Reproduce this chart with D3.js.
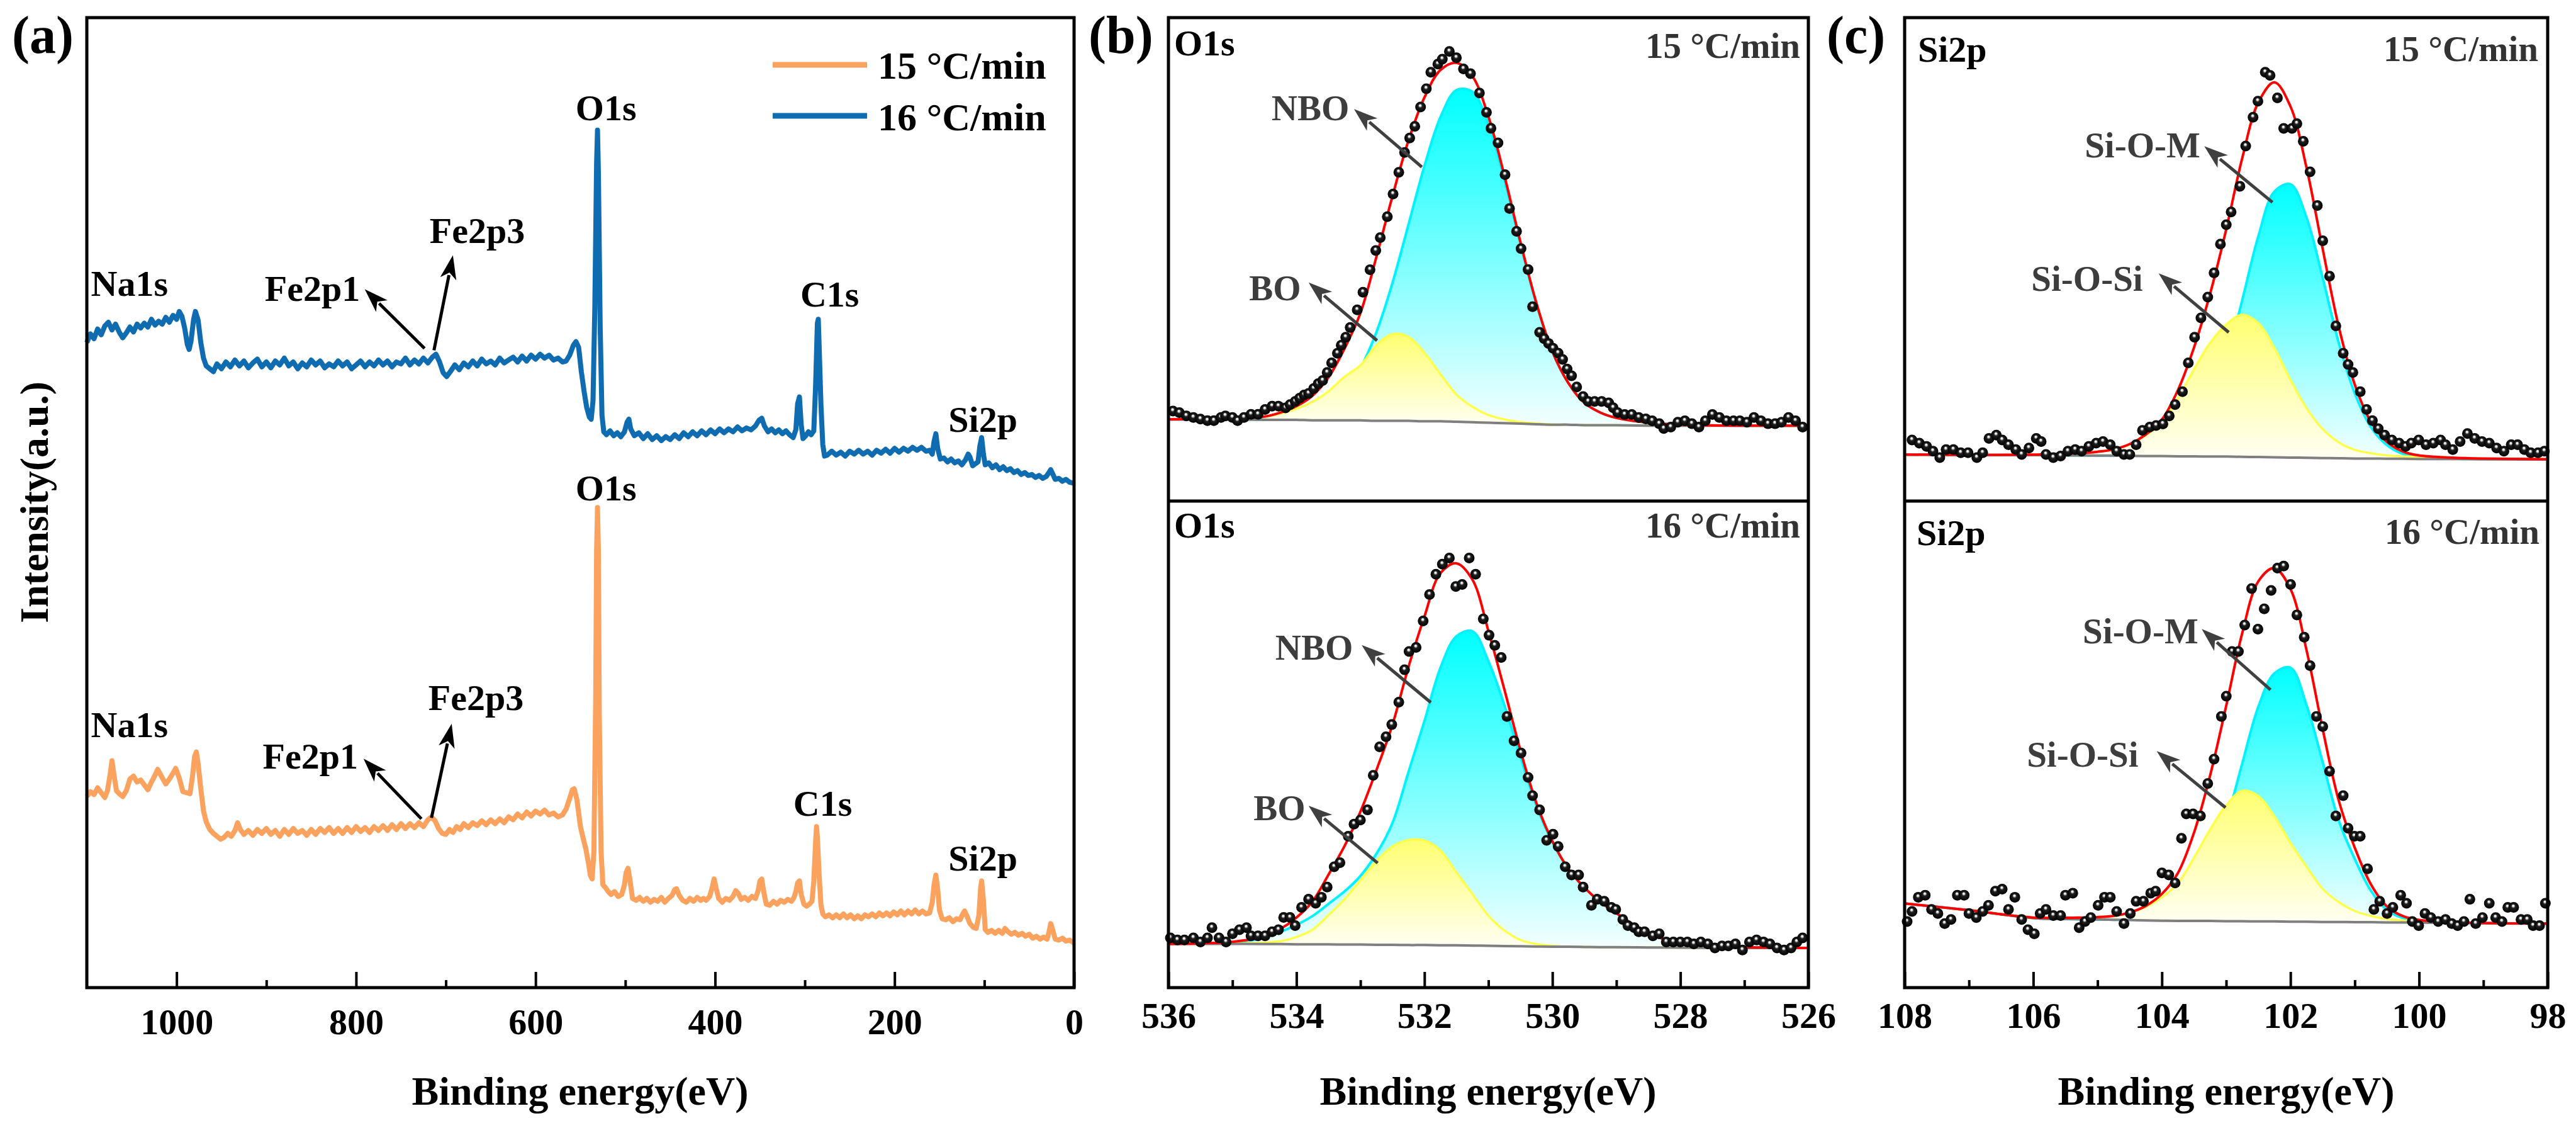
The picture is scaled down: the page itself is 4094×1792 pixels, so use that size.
<!DOCTYPE html>
<html><head><meta charset="utf-8">
<script src="https://cdn.jsdelivr.net/npm/d3@7/dist/d3.min.js"></script>
<style>body{margin:0;background:#fff}</style>
</head><body>
<script>
// ---------------- DATA ----------------
const rateLabels = ["15 °C/min", "16 °C/min"];
const surveyTicks = [1000, 800, 600, 400, 200, 0];
const surveyMinor = [900, 700, 500, 300, 100];
const o1sTicks = [536, 534, 532, 530, 528, 526];
const o1sMinor = [535, 533, 531, 529, 527];
const si2pTicks = [108, 106, 104, 102, 100, 98];
const si2pMinor = [107, 105, 103, 101, 99];

// (a) survey spectra [binding energy, intensity a.u.]
const survey16 = [[1100,66.5],[1096,67.4],[1092,66.9],[1088,67.9],[1084,67.3],[1080,68.2],[1076,68.6],[1072,67.8],[1068,68.4],[1064,67.6],[1060,67.0],[1056,67.5],[1052,68.1],[1048,67.6],[1044,68.4],[1040,68.0],[1036,68.5],[1032,68.1],[1028,68.9],[1024,68.3],[1020,68.7],[1016,68.4],[1012,69.1],[1008,68.6],[1004,69.3],[1000,68.9],[997,69.7],[994,69.2],[991,68.0],[988,66.3],[986,65.8],[984,66.6],[981,68.9],[979,69.7],[976,68.8],[973,66.5],[970,64.9],[967,64.1],[963,63.8],[959,63.5],
[955,64.3],[950,63.8],[945,64.5],[940,64.0],[935,64.7],[930,64.1],[925,64.6],[920,63.9],[915,64.4],[910,64.8],[905,64.0],[900,64.5],[895,63.9],[890,64.6],[885,64.2],[880,64.9],[875,64.1],[870,64.5],[865,63.8],[860,64.4],[855,64.0],[850,64.7],[845,64.2],[840,64.6],[835,63.9],[830,64.3],[825,64.0],[820,64.6],[815,64.1],[810,64.5],[805,63.8],[800,64.2],[795,64.6],[790,64.0],[785,64.5],[780,64.1],[775,64.7],[770,64.2],[765,64.6],[760,64.0],[755,64.5],[750,64.3],[745,64.9],[740,64.2],[735,64.7],[730,64.3],[725,64.9],[720,64.4],[715,65.0],[711,65.3],[707,64.5],[703,63.4],[699,63.0],[695,63.5],[690,64.2],[685,63.7],[680,64.4],[675,64.0],[670,64.6],[665,64.1],[660,64.8],[655,64.3],[650,64.6],[645,64.2],[640,64.9],[635,64.4],[630,64.7],[625,65.0],[620,64.5],[615,65.1],[610,64.6],[605,65.2],[600,64.8],[595,65.3],[590,64.9],[585,65.2],[580,64.7],[575,64.9],[570,64.5],[566,64.6],
[562,65.2],[558,66.2],[555,66.6],[552,66.0],[549,63.5],[546,61.5],[543,59.8],[540,58.8],[538,58.6],[536,60.5],[534,70.0],[532,85.0],[531,88.4],[530,84.0],[528,68.0],[526,59.0],[524,57.3],[521,57.0],
[517,57.4],[513,56.9],[509,57.2],[505,56.8],[501,57.3],[498,58.3],[496,58.6],[494,57.6],[490,56.9],[485,57.2],[480,56.6],[475,57.1],[470,56.5],[465,56.9],[460,56.4],[455,56.8],[450,56.5],[445,57.0],[440,56.6],[435,57.2],[430,56.8],[425,57.3],[420,56.9],[415,57.4],[410,57.0],[405,57.5],[400,57.1],[395,57.6],[390,57.2],[385,57.6],[380,57.3],[375,57.8],[370,57.4],[365,57.7],[360,57.5],[355,57.9],[351,58.5],[348,58.7],[345,57.9],[341,57.3],[337,57.6],[333,57.2],[329,57.5],[325,57.1],[321,57.4],[317,57.0],[313,56.7],[310,57.5],[308,60.2],[306,60.9],[304,58.0],[302,56.6],[299,56.9],[296,57.3],[293,57.0],[290,57.4],[288,62.0],[286,68.5],[285,68.9],[284,66.0],[282,60.0],[280,56.0],[278,54.8],[275,54.9],
[270,55.3],[265,54.9],[260,55.2],[255,54.8],[250,55.3],[245,55.0],[240,55.4],[235,55.0],[230,55.3],[225,54.9],[220,55.4],[215,55.1],[210,55.5],[205,55.1],[200,55.6],[195,55.2],[190,55.6],[185,55.3],[180,55.7],[175,55.4],[170,55.7],[165,55.3],[161,55.4],[158,55.0],[156,56.3],[154,57.1],[152,55.6],[149,54.5],[145,54.6],[141,54.2],[137,54.5],[133,54.1],[129,54.3],[125,53.9],[121,54.4],[118,55.0],[116,54.7],[113,53.8],[110,54.0],[107,54.2],[105,55.8],[103,56.7],[101,55.0],[99,53.9],[95,54.1],[91,53.6],[87,53.9],[83,53.4],[79,53.7],[75,53.3],[71,53.5],[67,53.1],[63,53.3],[59,52.9],[55,53.1],[51,52.8],[47,52.9],[43,52.6],[39,52.8],[35,52.5],[31,52.7],[28,53.1],[26,53.4],[24,53.0],[21,52.4],[17,52.5],[13,52.2],[9,52.4],[5,52.1],[0,52.0]];

const survey15 = [[1100,19.7],[1096,20.2],[1092,19.9],[1088,20.6],[1084,20.1],[1080,19.6],[1077,20.3],[1074,22.0],[1072,23.4],[1070,22.1],[1067,20.3],[1064,20.0],[1060,19.7],[1056,20.3],[1052,21.5],[1048,21.8],[1044,21.2],[1040,21.4],[1036,20.9],[1032,20.4],[1028,21.2],[1024,21.9],[1021,22.5],[1017,21.8],[1012,21.0],[1008,21.5],[1004,22.1],[1001,22.6],[997,21.6],[993,20.2],[989,20.1],[985,20.0],[982,22.0],[980,23.8],[978,24.3],[976,23.1],[973,20.5],[970,18.2],[967,17.1],[963,16.3],[959,15.9],[955,15.6],[951,15.3],[947,15.5],[943,15.9],[939,15.6],[935,16.2],[932,17.0],[929,16.3],[925,15.8],
[920,16.2],[915,15.7],[910,16.3],[905,15.9],[900,16.4],[895,15.8],[890,16.2],[885,15.6],[880,16.3],[875,15.8],[870,16.4],[865,15.9],[860,16.2],[855,15.7],[850,16.3],[845,15.8],[840,16.4],[835,16.0],[830,16.5],[825,15.9],[820,16.4],[815,15.9],[810,16.5],[805,16.0],[800,16.6],[795,16.1],[790,16.5],[785,16.0],[780,16.6],[775,16.2],[770,16.7],[765,16.2],[760,16.8],[755,16.3],[750,16.9],[745,16.4],[740,16.9],[735,16.5],[730,17.0],[725,16.6],[720,17.3],[716,17.6],[712,17.2],[708,16.4],[704,15.9],[700,15.8],[696,16.3],[692,16.0],[688,16.6],[684,16.3],[680,16.9],[675,16.5],[670,17.0],[665,16.7],[660,17.2],[655,16.8],[650,17.3],[645,16.9],[640,17.4],[635,17.0],[630,17.6],[625,17.3],[620,17.9],[615,17.5],[610,18.1],[605,17.7],[600,18.2],[595,17.9],[590,18.3],[585,17.8],[580,18.0],[575,17.6],[570,17.8],
[566,18.4],[562,19.5],[559,20.4],[557,20.5],[554,19.4],[550,16.6],[547,15.4],[544,14.3],[541,12.8],[539,11.6],[537,11.2],[535,14.0],[533,30.0],[532,45.0],[531,49.5],[530,45.0],[529,28.0],[527,14.0],[525,10.6],[522,10.3],[519,9.9],[516,9.6],[512,9.9],[508,9.4],[504,9.6],[501,10.6],[499,11.9],[497,12.3],[495,11.2],[492,9.2],[488,9.0],[484,9.3],[480,8.9],[476,9.2],[472,8.8],[468,9.1],[464,8.9],[460,9.3],[456,8.8],[452,9.2],[448,9.5],[445,10.1],[443,10.2],[440,9.5],[436,9.0],[432,8.8],[428,9.2],[424,8.9],[420,9.3],[416,9.0],[413,9.2],[410,9.0],[406,9.4],[403,10.4],[401,11.2],[399,10.3],[396,9.2],[392,8.8],[388,9.2],[384,9.0],[380,9.4],[377,10.0],[374,9.7],[371,9.1],[367,9.3],[363,9.0],[359,9.4],[355,9.2],[352,10.0],[350,11.0],[348,11.2],[346,10.0],[343,8.6],[339,8.5],[335,8.9],[331,8.6],[327,9.0],[323,8.8],[319,9.1],[315,8.9],[312,9.3],[310,9.9],[308,10.8],[306,11.0],[304,9.6],[301,8.6],[298,8.4],[295,8.6],[292,8.9],[290,11.0],[288,15.0],[287,16.6],[286,15.5],[284,11.5],[282,8.5],[280,7.6],[277,7.3],
[273,7.5],[269,7.2],[265,7.5],[261,7.2],[257,7.6],[253,7.2],[249,7.5],[245,7.1],[241,7.4],[237,7.1],[233,7.5],[229,7.3],[225,7.6],[221,7.3],[217,7.7],[213,7.4],[209,7.7],[205,7.4],[201,7.8],[197,7.5],[193,7.9],[189,7.5],[185,7.9],[181,7.6],[177,8.0],[173,7.6],[169,7.9],[165,7.6],[161,7.7],[158,8.8],[156,10.6],[154,11.6],[152,10.2],[150,8.0],[147,7.1],[143,7.0],[139,7.2],[135,6.8],[131,7.1],[127,7.0],[124,7.6],[122,7.9],[119,7.3],[116,6.6],[112,6.2],[109,6.1],[106,7.5],[104,10.4],[103,11.0],[101,9.0],[99,6.0],[96,5.7],[92,5.9],[88,5.6],[84,5.9],[80,5.6],[77,6.1],[74,5.8],[70,5.5],[66,5.7],[62,5.4],[58,5.6],[54,5.3],[50,5.5],[46,5.1],[42,5.3],[38,5.0],[34,5.2],[30,5.0],[28,5.7],[26,6.6],[24,6.0],[21,5.0],[17,4.9],[13,5.1],[9,4.8],[5,4.9],[0,4.6]];

// (a) peak labels [text, energy, intensity] and arrows [tailE, tailI, headE, headI]
const survey16Labels = [["Na1s",1095.4,71.3],["Fe2p1",901.8,70.8],["Fe2p3",718,76.8],["O1s",555.4,89.4],["C1s",305,70.2],["Si2p",140,57.3]];
const survey15Labels = [["Na1s",1095.4,25.8],["Fe2p1",904,22.6],["Fe2p3",719.5,28.6],["O1s",555.4,50.2],["C1s",312.8,17.7],["Si2p",140,12.1]];
const survey16Arrows = [[723.7,65.9,790.3,72.0],[713.2,65.7,692.1,75.5]];
const survey15Arrows = [[727.2,17.4,791.7,23.6],[716,17.5,693.5,27.2]];

// (b) O1s fits: energy grid, Shirley background, NBO and BO components (above background)
const o1sE = [536,535.5,535,534.5,534.25,534,533.75,533.5,533.25,533,532.75,532.5,532.25,532,531.75,531.5,531.25,531,530.75,530.5,530.25,530,529.75,529.5,529.25,529,528.5,528,527,526];
const o1s15Base = [16.9,16.9,16.9,16.8,16.8,16.8,16.7,16.7,16.7,16.7,16.6,16.6,16.6,16.5,16.5,16.4,16.3,16.2,16.1,16.0,15.9,15.8,15.8,15.7,15.7,15.7,15.6,15.6,15.6,15.6];
const o1s15NBO = [0,0,0.01,0.07,0.2,0.53,1.29,2.87,5.81,10.79,18.33,28.49,40.53,52.77,62.89,68.6,68.37,61.73,50.42,37.26,24.91,15.07,8.6,4.6,2.6,1.5,0.6,0.2,0,0];
const o1s15BO = [0,0.05,0.15,0.6,1.3,2.3,3.8,6.0,9.0,11.4,15.58,17.94,17.39,14.2,9.76,5.65,3.2,1.6,0.8,0.35,0.15,0.05,0,0,0,0,0,0,0,0];
const o1s16Base = [9.0,9.0,9.0,8.95,8.95,8.9,8.9,8.9,8.85,8.85,8.8,8.8,8.75,8.75,8.7,8.7,8.65,8.6,8.55,8.5,8.45,8.4,8.4,8.35,8.3,8.3,8.25,8.2,8.15,8.15];
const o1s16NBO = [0,0.1,0.3,1.3,2.5,4.0,5.8,8.3,10.9,14.1,18.7,25.0,35.5,46.0,57.0,63.5,64.6,58.5,49.5,39.0,29.0,21.5,16.0,12.2,9.3,7.0,2.9,1.0,0.2,0];
const o1s16BO = [0,0,0.1,0.3,0.6,1.5,3.0,6.0,9.3,13.2,17.2,20.2,21.6,21.5,19.5,15.0,10.6,6.2,3.2,1.3,0.5,0.2,0,0,0,0,0,0,0,0];
const o1s15Dots = [[535.93,18.62],[535.83,18.29],[535.72,17.62],[535.61,17.29],[535.50,16.96],[535.39,16.63],[535.29,16.63],[535.18,17.29],[535.11,17.62],[535.00,17.29],[534.92,16.63],[534.82,17.29],[534.71,17.95],[534.60,17.95],[534.49,18.95],[534.38,19.62],[534.28,19.62],[534.17,19.28],[534.10,19.95],[534.02,20.61],[533.95,21.28],[533.88,21.94],[533.81,22.27],[533.73,23.27],[533.66,24.27],[533.59,24.93],[533.52,26.59],[533.45,28.58],[533.36,30.58],[533.30,32.24],[533.23,33.90],[533.16,35.89],[533.05,39.54],[532.96,43.20],[532.85,47.85],[532.76,51.83],[532.69,54.49],[532.58,58.81],[532.49,63.5],[532.40,68.0],[532.31,72.1],[532.23,75.1],[532.15,77.5],[532.06,81.5],[531.97,85.3],[531.90,88.7],[531.79,90.4],[531.72,91.4],[531.61,93.0],[531.50,91.7],[531.39,89.4],[531.28,88.4],[531.14,84.4],[531.03,80.4],[530.96,77.1],[530.85,74.1],[530.74,67.5],[530.67,60.5],[530.56,55.8],[530.49,52.2],[530.38,47.9],[530.31,40.2],[530.20,34.9],[530.13,33.6],[530.06,32.6],[529.99,31.6],[529.91,30.6],[529.84,29.3],[529.77,27.3],[529.70,25.9],[529.62,23.6],[529.52,21.6],[529.44,20.6],[529.34,20.6],[529.23,20.6],[529.12,20.3],[529.05,19.3],[528.98,18.3],[528.87,17.9],[528.76,17.9],[528.65,17.3],[528.54,17.0],[528.44,16.6],[528.33,16.0],[528.26,15.0],[528.15,15.3],[528.04,16.3],[527.93,16.6],[527.82,16.0],[527.71,15.3],[527.61,16.6],[527.50,17.9],[527.39,17.3],[527.28,16.6],[527.17,16.6],[527.07,16.6],[526.96,16.3],[526.85,17.3],[526.74,16.6],[526.63,16.0],[526.52,16.0],[526.42,16.3],[526.31,17.3],[526.20,16.6],[526.09,15.3]];
const o1s16Dots = [[535.97,10.23],[535.86,9.81],[535.75,9.81],[535.61,10.23],[535.50,9.39],[535.39,10.23],[535.32,12.32],[535.21,10.23],[535.10,9.39],[535.00,11.07],[534.89,11.90],[534.78,12.32],[534.71,10.65],[534.60,10.65],[534.49,10.65],[534.38,11.48],[534.28,11.90],[534.20,14.41],[534.10,14.41],[534.02,12.73],[533.92,16.49],[533.81,18.16],[533.70,17.33],[533.61,18.58],[533.52,20.67],[533.41,24.84],[533.32,25.68],[533.19,31.10],[533.10,33.61],[533.00,34.44],[532.89,36.53],[532.80,43.63],[532.70,49.47],[532.60,51.56],[532.51,54.06],[532.40,58.66],[532.31,65.33],[532.24,69.09],[532.13,69.93],[532.02,75.35],[531.92,80.78],[531.82,84.95],[531.72,87.04],[531.61,88.29],[531.51,82.45],[531.41,82.87],[531.30,88.29],[531.20,84.95],[531.08,75.77],[530.99,72.43],[530.90,70.34],[530.80,67.84],[530.71,55.73],[530.60,50.72],[530.49,48.22],[530.38,43.21],[530.31,39.45],[530.20,36.53],[530.09,30.27],[529.99,31.52],[529.91,29.02],[529.80,24.84],[529.70,23.17],[529.59,23.17],[529.52,20.67],[529.39,16.91],[529.30,18.16],[529.19,17.74],[529.08,16.49],[529.01,16.08],[528.90,13.99],[528.82,12.73],[528.72,12.32],[528.65,11.48],[528.56,11.48],[528.43,10.65],[528.33,11.07],[528.22,9.39],[528.11,9.39],[528.00,9.39],[527.89,9.39],[527.79,8.98],[527.68,9.39],[527.57,8.98],[527.46,8.15],[527.35,8.56],[527.25,8.56],[527.14,8.98],[527.03,7.73],[526.92,9.39],[526.81,9.81],[526.70,9.39],[526.60,8.98],[526.49,8.15],[526.38,7.73],[526.27,8.15],[526.18,9.39],[526.09,10.23]];
const o1s15Labels = [["NBO",534.39,78.8],["BO",534.74,41.5]];
const o1s15Arrows = [[532.04,69.1,533.10,81.1],[532.74,33.2,533.81,45.2]];
const o1s16Labels = [["NBO",534.33,67.4],["BO",534.67,34.4]];
const o1s16Arrows = [[531.90,58.6,532.98,70.4],[532.73,25.6,533.81,37.4]];

// (c) Si2p fits
const si2pE = [108,107,106,105.5,105,104.75,104.5,104.25,104,103.75,103.5,103.25,103,102.75,102.5,102.25,102,101.75,101.5,101.25,101,100.75,100.5,100.25,100,99.5,99,98];
const si2p15Base = [9.6,9.55,9.5,9.45,9.4,9.4,9.35,9.3,9.3,9.25,9.25,9.2,9.2,9.15,9.1,9.05,9.0,8.95,8.9,8.85,8.8,8.8,8.75,8.75,8.7,8.7,8.65,8.6];
const si2p15SiOM = [0,0,0,0,0,0,0.04,0.15,0.55,1.7,4.5,10.16,19.63,32.38,45.65,54.97,56.54,49.69,37.32,23.94,13.5,6.5,2.8,1.0,0.35,0.05,0,0];
const si2p15SiOSi = [0,0,0.1,0.3,0.8,1.3,2.4,4.3,7.0,12.0,18.0,23.5,27.3,29.4,27.7,22.6,16.1,10.3,6.0,3.3,1.8,1.1,0.7,0.5,0.4,0.25,0.15,0.05];
const si2p16Base = [17.3,15.9,14.3,14.1,14.0,13.95,13.9,13.8,13.75,13.7,13.7,13.7,13.65,13.65,13.6,13.6,13.55,13.55,13.5,13.5,13.45,13.45,13.4,13.4,13.35,13.3,13.25,13.15];
const si2p16SiOM = [0,0,0,0,0,0,0.05,0.2,0.7,2.05,5.14,11.07,20.43,32.4,44.1,51.0,52.2,44.5,32.9,20.88,13.0,6.5,2.6,0.9,0.3,0.05,0,0];
const si2p16SiOSi = [0,0,0.1,0.25,0.5,0.8,1.5,2.8,4.8,7.8,13.0,18.8,23.8,26.8,25.8,21.6,16.2,11.3,6.8,4.1,2.3,1.3,0.7,0.4,0.25,0.1,0,0];
const si2p15Dots = [[107.885,12.64],[107.771,11.98],[107.658,11.31],[107.559,10.32],[107.453,8.99],[107.355,10.65],[107.241,10.65],[107.127,9.98],[107.014,9.98],[106.877,8.99],[106.786,9.98],[106.688,12.97],[106.574,13.64],[106.483,12.64],[106.385,11.64],[106.271,10.65],[106.180,9.65],[106.067,10.98],[105.953,12.97],[105.877,12.31],[105.802,9.65],[105.688,8.99],[105.574,9.32],[105.461,10.32],[105.347,10.65],[105.248,10.32],[105.135,11.31],[105.021,11.98],[104.915,12.31],[104.802,11.64],[104.703,10.32],[104.589,9.65],[104.499,9.65],[104.400,11.64],[104.302,14.63],[104.188,15.30],[104.089,15.63],[103.984,15.96],[103.885,17.62],[103.794,19.95],[103.680,22.61],[103.589,28.58],[103.491,33.90],[103.392,37.89],[103.286,42.20],[103.188,47.19],[103.089,53.16],[102.998,57.15],[102.923,59.81],[102.786,65.12],[102.696,73.43],[102.582,79.40],[102.506,82.72],[102.392,88.70],[102.317,88.04],[102.203,83.39],[102.105,77.08],[101.976,77.08],[101.900,78.07],[101.801,74.42],[101.695,68.11],[101.582,61.13],[101.498,53.83],[101.392,46.52],[101.294,36.22],[101.180,30.58],[101.104,28.25],[101.029,26.59],[100.915,22.61],[100.817,18.95],[100.726,16.63],[100.635,14.97],[100.536,13.64],[100.423,12.64],[100.309,11.98],[100.211,11.31],[100.120,11.98],[100.006,12.64],[99.892,11.64],[99.779,11.98],[99.665,12.64],[99.589,11.64],[99.476,10.65],[99.362,12.31],[99.248,13.97],[99.135,12.97],[99.021,12.31],[98.908,11.98],[98.794,10.98],[98.680,10.32],[98.567,11.64],[98.468,11.64],[98.362,10.65],[98.263,9.98],[98.150,9.98],[98.051,10.32]];
const si2p16Dots = [[107.961,13.57],[107.885,15.66],[107.787,18.58],[107.680,19.00],[107.582,16.08],[107.483,15.24],[107.377,13.15],[107.279,13.99],[107.180,19.00],[107.074,19.00],[106.999,15.24],[106.885,14.40],[106.786,15.66],[106.696,16.91],[106.589,19.83],[106.483,20.25],[106.385,16.08],[106.286,18.58],[106.180,13.99],[106.082,11.90],[105.983,11.07],[105.893,15.24],[105.802,16.08],[105.688,14.82],[105.574,14.82],[105.499,19.00],[105.385,19.42],[105.286,12.32],[105.195,13.57],[105.105,14.40],[104.991,16.91],[104.892,18.58],[104.802,18.58],[104.703,15.66],[104.589,13.15],[104.491,15.24],[104.400,17.74],[104.286,17.74],[104.173,19.42],[104.097,19.83],[103.999,23.59],[103.892,23.17],[103.794,21.50],[103.695,30.69],[103.620,35.70],[103.514,35.70],[103.400,35.28],[103.286,41.96],[103.188,46.97],[103.074,55.74],[102.998,59.91],[102.908,69.09],[102.809,69.09],[102.711,74.52],[102.604,82.03],[102.506,73.68],[102.408,77.86],[102.301,81.62],[102.203,86.21],[102.105,86.63],[101.998,82.87],[101.900,76.60],[101.786,72.01],[101.695,66.17],[101.597,55.74],[101.498,53.65],[101.392,44.46],[101.294,35.28],[101.180,39.45],[101.104,32.77],[101.006,31.10],[100.915,31.10],[100.802,24.43],[100.703,16.08],[100.612,17.74],[100.498,15.24],[100.408,16.49],[100.286,18.99],[100.195,17.33],[100.105,13.57],[100.006,12.73],[99.908,15.24],[99.817,14.40],[99.703,13.57],[99.589,13.99],[99.491,13.15],[99.400,12.73],[99.302,13.57],[99.210,18.16],[99.119,13.15],[99.014,14.40],[98.908,17.33],[98.809,14.40],[98.711,13.57],[98.620,16.49],[98.529,16.49],[98.415,13.99],[98.317,13.99],[98.226,12.73],[98.127,12.73],[98.036,17.33]];
const si2p15Labels = [["Si-O-M",105.20,71.1],["Si-O-Si",106.03,43.5]];
const si2p15Arrows = [[102.28,61.8,103.34,73.4],[102.96,34.9,104.05,47.1]];
const si2p16Labels = [["Si-O-M",105.23,70.8],["Si-O-Si",106.10,45.4]];
const si2p16Arrows = [[102.31,61.2,103.38,73.7],[103.01,37.0,104.08,48.6]];

// ---------------- DRAWING ----------------
const FONT = "'Liberation Serif','Times New Roman',serif";
const svg = d3.select("body").append("svg").attr("width",4094).attr("height",1792).style("display","block");
svg.append("rect").attr("width",4094).attr("height",1792).attr("fill","#fff");
const defs = svg.append("defs");
const rg = defs.append("radialGradient").attr("id","ball").attr("cx","50%").attr("cy","50%").attr("r","50%").attr("fx","45%").attr("fy","32%");
[["0%","#ffffff"],["16%","#e6e6e6"],["38%","#202020"],["100%","#000000"]].forEach(s=>rg.append("stop").attr("offset",s[0]).attr("stop-color",s[1]));
function vgrad(id, top, bottom){
  const g = defs.append("linearGradient").attr("id",id).attr("x1",0).attr("y1",0).attr("x2",0).attr("y2",1);
  g.append("stop").attr("offset","0%").attr("stop-color",top);
  g.append("stop").attr("offset","100%").attr("stop-color",bottom);
}
vgrad("gCyan","#00ffff","#f4ffff");
vgrad("gYellow","#ffff70","#fffff4");

function txt(g, s, x, y, size, opts={}){
  return g.append("text").attr("x",x).attr("y",y).text(s)
    .attr("font-family",FONT).attr("font-weight","bold").attr("font-size",size)
    .attr("fill",opts.fill||"#000").attr("text-anchor",opts.anchor||"start");
}
function arrow(g, x1,y1,x2,y2,color){
  const a = Math.atan2(y2-y1,x2-x1), L=38, W=13;
  const bx = x2-L*Math.cos(a), by = y2-L*Math.sin(a);
  g.append("line").attr("x1",x1).attr("y1",y1).attr("x2",bx+6*Math.cos(a)).attr("y2",by+6*Math.sin(a))
    .attr("stroke",color).attr("stroke-width",5);
  const p = [[x2,y2],[bx+W*Math.sin(a),by-W*Math.cos(a)],[bx+10*Math.cos(a),by+10*Math.sin(a)],[bx-W*Math.sin(a),by+W*Math.cos(a)]];
  g.append("polygon").attr("points",p.map(d=>d.join(",")).join(" ")).attr("fill",color);
}
function bottomAxis(g, x, yPos, major, minor, pad){
  const ga = g.append("g").attr("transform",`translate(0,${yPos})`)
    .call(d3.axisBottom(x).tickValues(major).tickSize(-25).tickPadding(pad).tickFormat(d3.format("d")));
  ga.select(".domain").remove();
  ga.selectAll("line").attr("stroke","#000").attr("stroke-width",4);
  ga.selectAll("text").attr("font-family",FONT).attr("font-weight","bold").attr("font-size",58).attr("fill","#000");
  const gm = g.append("g").attr("transform",`translate(0,${yPos})`)
    .call(d3.axisBottom(x).tickValues(minor).tickSize(-12).tickFormat(""));
  gm.select(".domain").remove();
  gm.selectAll("line").attr("stroke","#000").attr("stroke-width",4);
}

// ---------- Panel (a) ----------
const ga = svg.append("g");
const ax = d3.scaleLinear().domain([1100,0]).range([138,1707]);
const ay = d3.scaleLinear().domain([0,100]).range([1569,28]);
const sLine = d3.line().x(d=>ax(d[0])).y(d=>ay(d[1]));
const colors = ["#fba25e","#0f6cb0"];
[[survey15,colors[0]],[survey16,colors[1]]].forEach(([d,c])=>{
  ga.append("path").attr("d",sLine(d)).attr("fill","none").attr("stroke",c).attr("stroke-width",8).attr("stroke-linejoin","round");
});
[survey15Labels, survey16Labels].forEach(L=>L.forEach(l=>txt(ga,l[0],ax(l[1]),ay(l[2]),58)));
[survey15Arrows, survey16Arrows].forEach(A=>A.forEach(a=>arrow(ga,ax(a[0]),ay(a[1]),ax(a[2]),ay(a[3]),"#000")));
// legend
[[0,103,125],[1,184,207]].forEach(([i,ly,ty])=>{
  ga.append("line").attr("x1",1228).attr("x2",1378).attr("y1",ly).attr("y2",ly).attr("stroke",colors[i]).attr("stroke-width",9);
  txt(ga, rateLabels[i], 1395, ty, 62);
});
ga.append("rect").attr("x",138).attr("y",28).attr("width",1707-138).attr("height",1569-28).attr("fill","none").attr("stroke","#000").attr("stroke-width",5);
bottomAxis(ga, ax, 1569, surveyTicks, surveyMinor, 33);
txt(ga,"Binding energy(eV)",922,1755,64,{anchor:"middle"});
ga.append("text").attr("transform","translate(76,798) rotate(-90)").text("Intensity(a.u.)")
  .attr("font-family",FONT).attr("font-weight","bold").attr("font-size",64).attr("text-anchor","middle");
txt(ga,"(a)",19,84,84);

// ---------- fit panels ----------
function fitPanel(g, x, y, E, base, c1, c2, dots){
  const crv = d3.curveCatmullRom.alpha(0.5);
  const area = comp => d3.area().x((d,i)=>x(E[i])).y0((d,i)=>y(base[i])).y1((d,i)=>y(base[i]+comp[i])).curve(crv);
  const line = comp => d3.line().x((d,i)=>x(E[i])).y((d,i)=>y(base[i]+comp[i])).curve(crv);
  g.append("path").attr("d",area(c1)(E)).attr("fill","url(#gCyan)");
  g.append("path").attr("d",line(c1)(E)).attr("fill","none").attr("stroke","#00f2ff").attr("stroke-width",4);
  g.append("path").attr("d",area(c2)(E)).attr("fill","url(#gYellow)");
  g.append("path").attr("d",line(c2)(E)).attr("fill","none").attr("stroke","#ffff48").attr("stroke-width",3.5);
  const zero = E.map(()=>0);
  g.append("path").attr("d",line(zero)(E)).attr("fill","none").attr("stroke","#808080").attr("stroke-width",4);
  const env = E.map((e,i)=>c1[i]+c2[i]);
  g.append("path").attr("d",line(env)(E)).attr("fill","none").attr("stroke","#ff0000").attr("stroke-width",4);
  g.selectAll(null).data(dots).enter().append("circle")
    .attr("cx",d=>x(d[0])).attr("cy",d=>y(d[1])).attr("r",8.5).attr("fill","url(#ball)");
}
function labelsArrows(g, x, y, labels, arrows){
  labels.forEach(l=>txt(g,l[0],x(l[1]),y(l[2]),57,{fill:"#3d3d3d"}));
  arrows.forEach(a=>arrow(g,x(a[0]),y(a[1]),x(a[2]),y(a[3]),"#404040"));
}

// Panel (b)
const gb = svg.append("g");
const bx = d3.scaleLinear().domain([536,526]).range([1857,2874]);
const byU = d3.scaleLinear().domain([0,100]).range([796,28]);
const byL = d3.scaleLinear().domain([0,100]).range([1569,796]);
fitPanel(gb,bx,byU,o1sE,o1s15Base,o1s15NBO,o1s15BO,o1s15Dots);
fitPanel(gb,bx,byL,o1sE,o1s16Base,o1s16NBO,o1s16BO,o1s16Dots);
labelsArrows(gb,bx,byU,o1s15Labels,o1s15Arrows);
labelsArrows(gb,bx,byL,o1s16Labels,o1s16Arrows);
gb.append("rect").attr("x",1857).attr("y",28).attr("width",2874-1857).attr("height",1569-28).attr("fill","none").attr("stroke","#000").attr("stroke-width",5);
gb.append("line").attr("x1",1857).attr("x2",2874).attr("y1",796).attr("y2",796).attr("stroke","#000").attr("stroke-width",5);
txt(gb,"O1s",1866,88,58);
txt(gb,"O1s",1866,854,58);
txt(gb,rateLabels[0],2861,92,57,{anchor:"end",fill:"#333"});
txt(gb,rateLabels[1],2861,854,57,{anchor:"end",fill:"#333"});
bottomAxis(gb,bx,1569,o1sTicks,o1sMinor,23);
txt(gb,"Binding energy(eV)",2365,1755,64,{anchor:"middle"});
txt(gb,"(b)",1730,84,84);

// Panel (c)
const gc = svg.append("g");
const cx = d3.scaleLinear().domain([108,98]).range([3027,4049]);
const cyU = d3.scaleLinear().domain([0,100]).range([796,28]);
const cyL = d3.scaleLinear().domain([0,100]).range([1569,796]);
fitPanel(gc,cx,cyU,si2pE,si2p15Base,si2p15SiOM,si2p15SiOSi,si2p15Dots);
fitPanel(gc,cx,cyL,si2pE,si2p16Base,si2p16SiOM,si2p16SiOSi,si2p16Dots);
labelsArrows(gc,cx,cyU,si2p15Labels,si2p15Arrows);
labelsArrows(gc,cx,cyL,si2p16Labels,si2p16Arrows);
gc.append("rect").attr("x",3027).attr("y",28).attr("width",4049-3027).attr("height",1569-28).attr("fill","none").attr("stroke","#000").attr("stroke-width",5);
gc.append("line").attr("x1",3027).attr("x2",4049).attr("y1",796).attr("y2",796).attr("stroke","#000").attr("stroke-width",5);
txt(gc,"Si2p",3048,98,58);
txt(gc,"Si2p",3046,866,58);
txt(gc,rateLabels[0],4034,97,57,{anchor:"end",fill:"#333"});
txt(gc,rateLabels[1],4036,864,57,{anchor:"end",fill:"#333"});
bottomAxis(gc,cx,1569,si2pTicks,si2pMinor,23);
txt(gc,"Binding energy(eV)",3538,1755,64,{anchor:"middle"});
txt(gc,"(c)",2903,84,84);
</script>
</body></html>
